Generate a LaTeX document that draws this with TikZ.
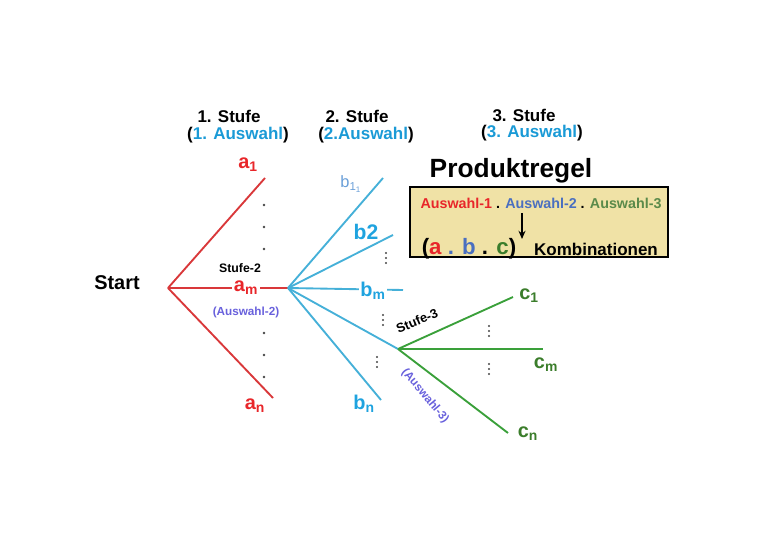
\documentclass[tikz,border=0pt]{standalone}
\usepackage{fontspec}
\setmainfont{Liberation Sans}
\usepackage{xcolor}
\definecolor{treered}{RGB}{217,56,58}
\definecolor{labred}{RGB}{232,38,42}
\definecolor{treeblue}{RGB}{69,176,216}
\definecolor{labblue}{RGB}{31,163,223}
\definecolor{paleblue}{RGB}{106,159,216}
\definecolor{treegreen}{RGB}{58,160,58}
\definecolor{labgreen}{RGB}{59,125,43}
\definecolor{hdrblue}{RGB}{26,154,214}
\definecolor{noteviolet}{RGB}{104,96,220}
\definecolor{boxfill}{RGB}{240,226,166}
\definecolor{kblue}{RGB}{74,111,192}
\definecolor{kgreen}{RGB}{90,138,74}
\definecolor{dotgray}{RGB}{70,70,70}
\usetikzlibrary{arrows.meta}

\begin{document}
\begin{tikzpicture}[x=0.03cm, y=-0.03cm,
    every node/.style={inner sep=1pt, font=\bfseries},
    hdr/.style={font=\fontsize{14.5}{16}\selectfont\bfseries},
    leaf/.style={font=\fontsize{17}{19}\selectfont\bfseries},
    note/.style={font=\fontsize{10.5}{12}\selectfont\bfseries},
    branchR/.style={treered, line width=1.6pt},
    branchB/.style={treeblue, line width=1.6pt},
    branchG/.style={treegreen, line width=1.6pt}]
    \useasboundingbox (0,0) rectangle (768,543);

    % Stage headers
    \node[hdr] (h1) at (229,116) {1. Stufe};
    \node[hdr] (h1b) at (238,135) {(\textcolor{hdrblue}{1. Auswahl})};
    \node[hdr] (h2) at (357,116) {2. Stufe};
    \node[hdr] (h2b) at (366,135) {(\textcolor{hdrblue}{2.Auswahl})};
    \node[hdr] (h3) at (524,115) {3. Stufe};
    \node[hdr] (h3b) at (532,133) {(\textcolor{hdrblue}{3. Auswahl})};

    % Branch points
    \node[font=\fontsize{17}{19}\selectfont\bfseries] (start) at (117,283) {Start};
    \coordinate (s0) at (168,288);
    \coordinate (s1) at (288,288);
    \coordinate (s2) at (398,349);

    % Stage 1 (red)
    \coordinate (a1end) at (265,178);
    \coordinate (anend) at (273,398);
    \draw[branchR] (s0) -- (a1end);
    \draw[branchR] (s0) -- (anend);
    \draw[branchR] (s0) -- (s1);
    \node[leaf, labred] (a1) at (248,165) {a\textsubscript{1}};
    \node[leaf, labred, fill=white, inner sep=2pt] (am) at (246,288) {a\textsubscript{m}};
    \node[leaf, labred] (an) at (255,406) {a\textsubscript{n}};
    \node[note] (st2) at (240,268) {Stufe-2};
    \node[note, noteviolet, font=\fontsize{10}{12}\selectfont\bfseries] (aw2) at (246,312) {(Auswahl-2)};
    \foreach \y in {205,227,249,333,355,377}
        \fill[dotgray] (264,\y) circle (1.4);

    % Stage 2 (blue)
    \coordinate (b1end) at (383,178);
    \coordinate (b2end) at (393,235);
    \coordinate (bmend) at (403,290);
    \coordinate (bnend) at (381,400);
    \draw[branchB] (s1) -- (b1end);
    \draw[branchB] (s1) -- (b2end);
    \draw[branchB] (s1) -- (bmend);
    \draw[branchB] (s1) -- (s2);
    \draw[branchB] (s1) -- (bnend);
    \node[paleblue, font=\fontsize{14}{16}\selectfont] (b1) at (351,184) {b\textsubscript{1\textsubscript{1}}};
    \node[leaf, labblue, font=\fontsize{18}{20}\selectfont\bfseries] (b2) at (366,232) {b2};
    \node[leaf, labblue, fill=white, inner sep=1.5pt] (bm) at (373,291) {b\textsubscript{m}};
    \node[leaf, labblue] (bn) at (364,404) {b\textsubscript{n}};
    \node[note, rotate=23, font=\fontsize{11}{13}\selectfont\bfseries] (st3) at (417,321) {Stufe-3};
    \node[note, noteviolet, rotate=-50, font=\fontsize{10}{12}\selectfont\bfseries] (aw3) at (425,396) {(Auswahl-3)};

    % Stage 3 (green)
    \coordinate (c1end) at (513,297);
    \coordinate (cmend) at (543,349);
    \coordinate (cnend) at (508,433);
    \draw[branchG] (s2) -- (c1end);
    \draw[branchG] (s2) -- (cmend);
    \draw[branchG] (s2) -- (cnend);
    \node[leaf, labgreen] (c1) at (529,296) {c\textsubscript{1}};
    \node[leaf, labgreen] (cm) at (546,365) {c\textsubscript{m}};
    \node[leaf, labgreen] (cn) at (528,434) {c\textsubscript{n}};

    % vertical dots
    \foreach \x/\y in {386/258, 383/320, 377/362, 489/331, 489/369} {
        \foreach \d in {-5,0,5}
            \fill[dotgray] (\x,\y+\d) circle (1.2);
    }

    % Product rule box
    \node[font=\fontsize{22.5}{24}\selectfont\bfseries] (title) at (511,171) {Produktregel};
    \node[draw, fill=boxfill, line width=1.4pt, minimum width=7.74cm, minimum height=2.1cm] (rule) at (539,222) {};
    \node[font=\fontsize{12.2}{14}\selectfont\bfseries] (rl1) at (541,203)
        {\textcolor{labred}{Auswahl-1} . \textcolor{kblue}{Auswahl-2} . \textcolor{kgreen}{Auswahl-3}};
    \coordinate (arrtop) at (522,213);
    \coordinate (arrbot) at (522,239);
    \draw[-{Stealth[length=7pt,width=6pt]}, line width=1.5pt] (arrtop) -- (arrbot);
    \node[font=\fontsize{19}{21}\selectfont\bfseries] (abc) at (469,249)
        {(\textcolor{labred}{a} \textcolor{kblue}{.} \textcolor{kblue}{b} . \textcolor{labgreen}{c})};
    \node[font=\fontsize{14.5}{16}\selectfont\bfseries] (komb) at (596,249) {Kombinationen};
\end{tikzpicture}
\end{document}
